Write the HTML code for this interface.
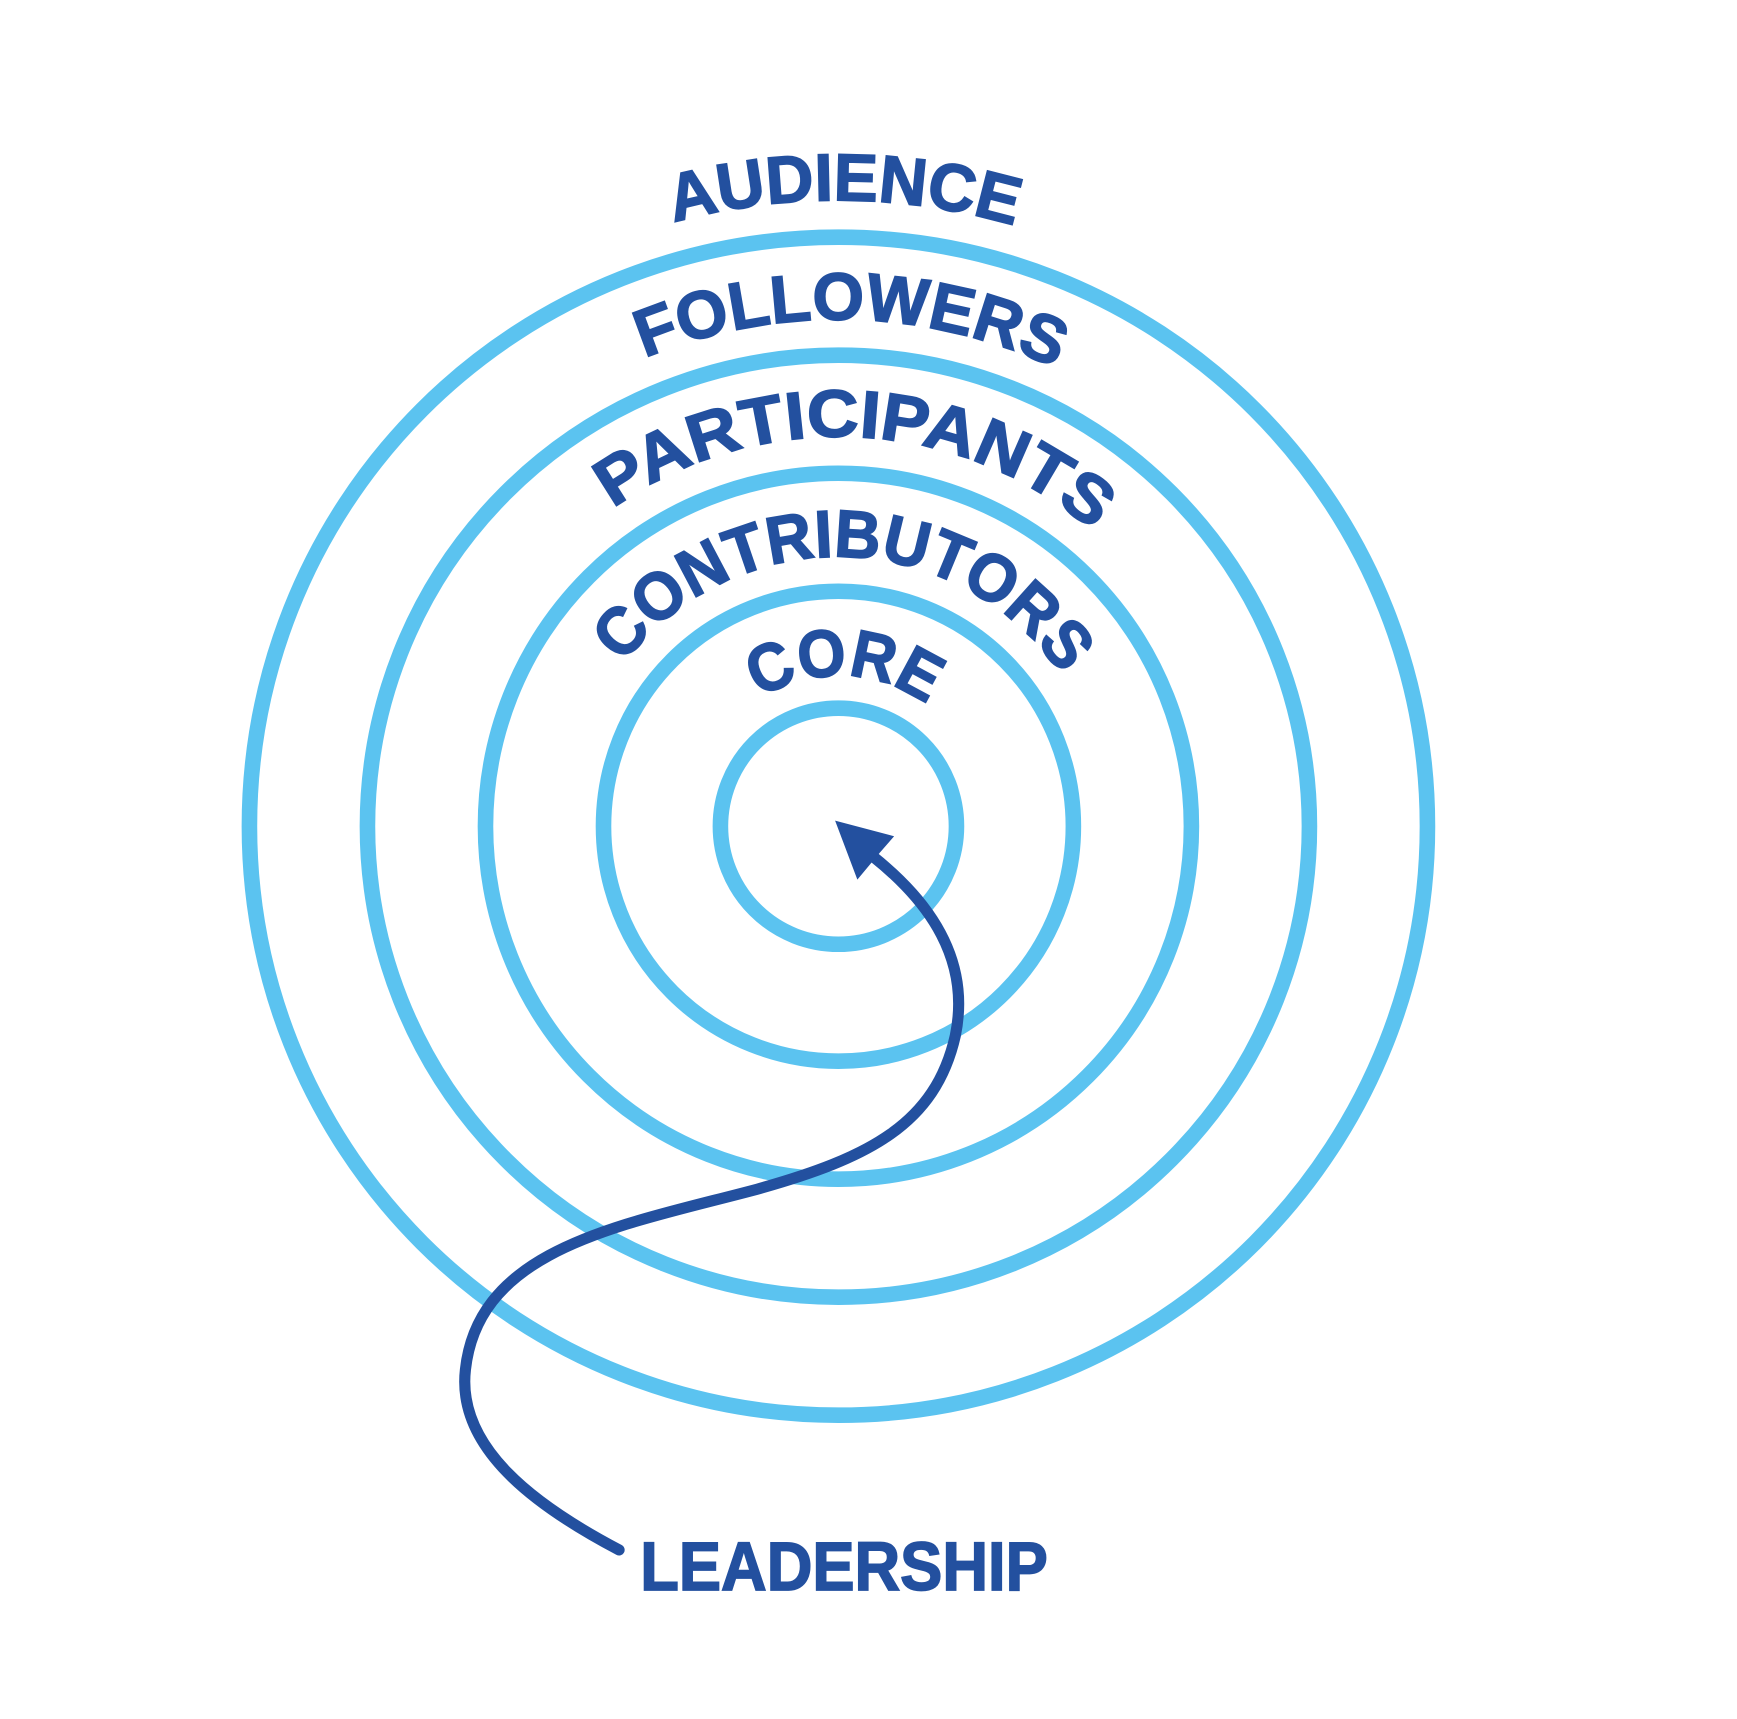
<!DOCTYPE html>
<html><head><meta charset="utf-8"><style>html,body{margin:0;padding:0;background:#fff}svg{display:block}</style></head>
<body>
<svg width="1737" height="1719" viewBox="0 0 1560 1543.8" xmlns="http://www.w3.org/2000/svg">
<defs>
<path id="a1" d="M191,742 A562,562 0 0 1 1315,742"/>
<path id="a2" d="M298,742 A455,455 0 0 1 1208,742"/>
<path id="a3" d="M403,742 A350,350 0 0 1 1103,742"/>
<path id="a4" d="M511,742 A242,242 0 0 1 995,742"/>
<path id="a5" d="M618,742 A135,135 0 0 1 888,742"/>
</defs>
<g fill="none" stroke="#5bc3f0" stroke-width="14">
<circle cx="753" cy="742" r="106"/>
<circle cx="753" cy="742" r="211"/>
<circle cx="753" cy="742" r="317"/>
<circle cx="753" cy="742" r="423"/>
<circle cx="753" cy="742" r="529"/>
</g>
<g font-family="Liberation Sans, sans-serif" font-weight="bold" font-size="60" fill="#23509f" text-anchor="middle" stroke="#23509f" stroke-width="1.5">
<text><textPath href="#a1" startOffset="50.3%" textLength="310" lengthAdjust="spacingAndGlyphs">AUDIENCE</textPath></text>
<text><textPath href="#a2" startOffset="50.8%" textLength="380" lengthAdjust="spacingAndGlyphs">FOLLOWERS</textPath></text>
<text><textPath href="#a3" startOffset="51.5%" textLength="465" lengthAdjust="spacingAndGlyphs">PARTICIPANTS</textPath></text>
<text><textPath href="#a4" startOffset="50.8%" textLength="460" lengthAdjust="spacingAndGlyphs">CONTRIBUTORS</textPath></text>
<text><textPath href="#a5" startOffset="51.2%" textLength="160" lengthAdjust="spacingAndGlyphs">CORE</textPath></text>
<text x="758" y="1428" textLength="366" lengthAdjust="spacingAndGlyphs" font-size="62">LEADERSHIP</text>
</g>
<path d="M556,1392 C480,1352 410,1300 418,1230 C430,1120 560,1100 680,1068 C780,1040 840,1010 858,930 C872,862 835,810 785,770" fill="none" stroke="#23509f" stroke-width="10" stroke-linecap="round"/>
<path d="M750,737 L803,751 L790,766 L770,790 Z" fill="#23509f"/>
</svg>
</body></html>
